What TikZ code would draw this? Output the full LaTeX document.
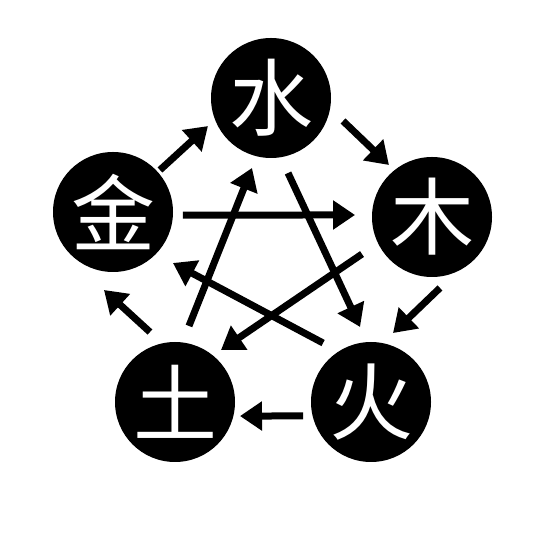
\documentclass[tikz,border=0pt]{standalone}
\usepackage{fontspec}
\newfontfamily\cjk{Noto Sans CJK SC}
\usetikzlibrary{arrows.meta}
\begin{document}
\begin{tikzpicture}[x=1pt,y=1pt,
  elem/.style={circle,fill=black,minimum size=120pt,inner sep=0pt,outer sep=0pt,text=white,font=\cjk\fontsize{84}{84}\selectfont},
  arr/.style={line width=7pt,-{Triangle[length=22pt,width=28pt]}}]
\useasboundingbox[fill=white] (0,0) rectangle (540,540);
\node[elem] (w) at (271,442) {水};
\node[elem] (m) at (432,323) {木};
\node[elem] (f) at (371,138) {火};
\node[elem] (e) at (175,138) {土};
\node[elem] (g) at (113,328) {金};
% generating cycle
\draw[arr] ([shift={(-17.7:75.6)}]w.center) -- ([shift={(129.6:67.5)}]m.center);
\draw[arr] ([shift={(-83.6:71.4)}]m.center) -- ([shift={(72.3:72.4)}]f.center);
\draw[arr] ([shift={(191.6:69.4)}]f.center) -- ([shift={(-12.2:66.5)}]e.center);
\draw[arr] ([shift={(109.7:74.3)}]e.center) -- ([shift={(263.4:78.5)}]g.center);
\draw[arr] ([shift={(41.8:63)}]g.center) -- ([shift={(204:69)}]w.center);
% overcoming cycle
\draw[arr] ([shift={(-2.5:70)}]g.center) -- ([shift={(178.5:77)}]m.center);
\draw[arr] ([shift={(207.9:79.2)}]m.center) -- ([shift={(48.5:69.4)}]e.center);
\draw[arr] ([shift={(79.6:77.3)}]e.center) -- ([shift={(254.8:72.5)}]w.center);
\draw[arr] ([shift={(-77.2:76.9)}]w.center) -- ([shift={(98.3:75.8)}]f.center);
\draw[arr] ([shift={(129.1:76)}]f.center) -- ([shift={(-40.4:78.7)}]g.center);
\end{tikzpicture}
\end{document}
